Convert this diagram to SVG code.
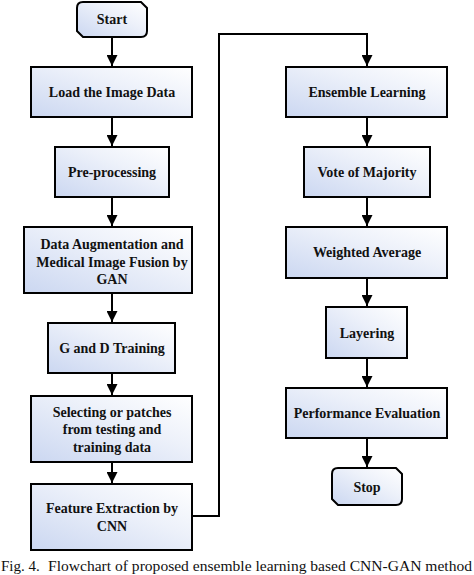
<svg xmlns="http://www.w3.org/2000/svg" width="474" height="575" viewBox="0 0 474 575">
<defs>
<linearGradient id="g" x1="0" y1="1" x2="1" y2="0">
<stop offset="0" stop-color="#cbd7f1"/>
<stop offset="0.6" stop-color="#edf1fa"/>
<stop offset="1" stop-color="#ffffff"/>
</linearGradient>
<marker id="ah" viewBox="0 0 10 10" refX="10" refY="5" markerWidth="5.5" markerHeight="5.5" orient="auto" markerUnits="strokeWidth">
<path d="M0,0 L10,5 L0,10 Z" fill="#000"/>
</marker>
<style>
.box{fill:url(#g);stroke:#000;stroke-width:2}
.t{font-family:"Liberation Serif","Times New Roman",serif;font-weight:bold;font-size:14px;fill:#111;text-anchor:middle}
.c{fill:none;stroke:#000;stroke-width:2}
.cap{font-family:"Liberation Serif","Times New Roman",serif;font-size:15px;fill:#111}
</style>
</defs>
<rect width="474" height="575" fill="#fff"/>
<g id="connectors">
<line class="c" x1="112" y1="37" x2="112" y2="66" marker-end="url(#ah)"/>
<line class="c" x1="112" y1="117" x2="112" y2="146" marker-end="url(#ah)"/>
<line class="c" x1="112" y1="197" x2="112" y2="226" marker-end="url(#ah)"/>
<line class="c" x1="112" y1="293" x2="112" y2="322" marker-end="url(#ah)"/>
<line class="c" x1="112" y1="373" x2="112" y2="395" marker-end="url(#ah)"/>
<line class="c" x1="112" y1="462" x2="112" y2="483" marker-end="url(#ah)"/>
<polyline class="c" points="192,516 219,516 219,34 367,34 367,66" marker-end="url(#ah)"/>
<line class="c" x1="367" y1="117" x2="367" y2="146" marker-end="url(#ah)"/>
<line class="c" x1="367" y1="197" x2="367" y2="226" marker-end="url(#ah)"/>
<line class="c" x1="367" y1="278" x2="367" y2="306" marker-end="url(#ah)"/>
<line class="c" x1="367" y1="358" x2="367" y2="387" marker-end="url(#ah)"/>
<line class="c" x1="367" y1="438" x2="367" y2="467" marker-end="url(#ah)"/>
</g>
<g id="start">
<path class="box" d="M83,2 L141,2 L147,8 L147,31 Q147,37 141,37 L83,37 L77,31 L77,8 Q77,2 83,2 Z"/>
<text class="t" x="112" y="24">Start</text>
</g>
<g id="load">
<rect class="box" x="31" y="67" width="161" height="50"/>
<text class="t" x="112" y="97">Load the Image Data</text>
</g>
<g id="preprocessing">
<rect class="box" x="55" y="147" width="114" height="50"/>
<text class="t" x="112" y="177">Pre-processing</text>
</g>
<g id="augmentation">
<rect class="box" x="24" y="227" width="168" height="66"/>
<text class="t" x="112" y="249">Data Augmentation and</text>
<text class="t" x="112" y="267">Medical Image Fusion by</text>
<text class="t" x="112" y="284">GAN</text>
</g>
<g id="gd-training">
<rect class="box" x="48" y="323" width="127" height="50"/>
<text class="t" x="112" y="353">G and D Training</text>
</g>
<g id="selecting">
<rect class="box" x="31" y="396" width="161" height="66"/>
<text class="t" x="112" y="417">Selecting or patches</text>
<text class="t" x="112" y="434">from testing and</text>
<text class="t" x="112" y="452">training data</text>
</g>
<g id="feature">
<rect class="box" x="31" y="484" width="161" height="66"/>
<text class="t" x="112" y="513">Feature Extraction by</text>
<text class="t" x="112" y="531">CNN</text>
</g>
<g id="ensemble">
<rect class="box" x="286" y="67" width="161" height="50"/>
<text class="t" x="367" y="97">Ensemble Learning</text>
</g>
<g id="vote">
<rect class="box" x="304" y="147" width="126" height="50"/>
<text class="t" x="367" y="177">Vote of Majority</text>
</g>
<g id="weighted">
<rect class="box" x="286" y="227" width="161" height="51"/>
<text class="t" x="367" y="257">Weighted Average</text>
</g>
<g id="layering">
<rect class="box" x="326" y="307" width="81" height="51"/>
<text class="t" x="367" y="338">Layering</text>
</g>
<g id="performance">
<rect class="box" x="286" y="388" width="161" height="50"/>
<text class="t" x="367" y="418">Performance Evaluation</text>
</g>
<g id="stop">
<path class="box" d="M338,468 L396,468 L402,474 L402,499 Q402,505 396,505 L338,505 L332,499 L332,474 Q332,468 338,468 Z"/>
<text class="t" x="367" y="492">Stop</text>
</g>
<text class="cap" y="571"><tspan x="1">Fig. 4.</tspan><tspan x="48" textLength="424" lengthAdjust="spacingAndGlyphs">Flowchart of proposed ensemble learning based CNN-GAN method</tspan></text>
</svg>
